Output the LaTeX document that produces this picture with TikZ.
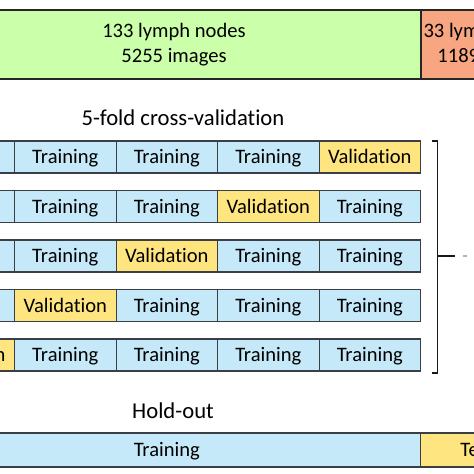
\documentclass[tikz,border=0pt]{standalone}
\usepackage{fontspec}
\setmainfont{Carlito}[Ligatures=NoCommon]
\usepackage{xcolor}
\usepackage{tikz}
\usetikzlibrary{positioning}
\definecolor{trainblue}{HTML}{C6E9FA}
\definecolor{valyellow}{HTML}{FFE57F}
\definecolor{devgreen}{HTML}{CCFFAA}
\definecolor{testorange}{HTML}{F8A682}
\definecolor{edge}{HTML}{3A3F45}
\tikzset{
  cell/.style={draw=edge,line width=0.6pt,minimum width=2.03cm,minimum height=0.64cm,anchor=west,inner sep=0pt,text height=1.9ex,text depth=0.3ex},
  trainbox/.style={cell,fill=trainblue},
  valbox/.style={cell,fill=valyellow},
  splitbox/.style={draw=black!85,line width=1.1pt,minimum height=1.38cm,anchor=west,inner sep=0pt,align=center,font=\fontsize{11.7}{14.6}\selectfont},
  holdbox/.style={draw=edge,line width=0.6pt,minimum height=0.68cm,anchor=west,inner sep=0pt,text height=1.9ex,text depth=0.3ex},
  heading/.style={font=\fontsize{12.9}{15}\selectfont},
  brace/.style={line width=1.1pt,draw=black!90}
}

\begin{document}
\begin{tikzpicture}[font=\fontsize{11.7}{13.7}\selectfont]
  \useasboundingbox (0,0) rectangle (9.48,-9.48);
  \clip (0,0) rectangle (9.48,-9.48);
  % data split
  \node[splitbox,fill=devgreen,minimum width=9.88cm] (dev) at (-1.48,-0.89) {133 lymph nodes\\5255 images};
  \node[splitbox,fill=testorange,minimum width=2.76cm] (ext) at (8.40,-0.89) {33 lymph nodes\\1189 images};
  % cross-validation, one row per fold
  \node[heading] (cvtitle) at (3.66,-2.36) {5-fold cross-validation};
  \node[trainbox] (f1c1) at (-1.75,-3.14) {Training};
  \node[trainbox] (f1c2) at (0.28,-3.14) {Training};
  \node[trainbox] (f1c3) at (2.31,-3.14) {Training};
  \node[trainbox] (f1c4) at (4.34,-3.14) {Training};
  \node[valbox]   (f1c5) at (6.37,-3.14) {Validation};
  \node[trainbox] (f2c1) at (-1.75,-4.13) {Training};
  \node[trainbox] (f2c2) at (0.28,-4.13) {Training};
  \node[trainbox] (f2c3) at (2.31,-4.13) {Training};
  \node[valbox]   (f2c4) at (4.34,-4.13) {Validation};
  \node[trainbox] (f2c5) at (6.37,-4.13) {Training};
  \node[trainbox] (f3c1) at (-1.75,-5.12) {Training};
  \node[trainbox] (f3c2) at (0.28,-5.12) {Training};
  \node[valbox]   (f3c3) at (2.31,-5.12) {Validation};
  \node[trainbox] (f3c4) at (4.34,-5.12) {Training};
  \node[trainbox] (f3c5) at (6.37,-5.12) {Training};
  \node[trainbox] (f4c1) at (-1.75,-6.11) {Training};
  \node[valbox]   (f4c2) at (0.28,-6.11) {Validation};
  \node[trainbox] (f4c3) at (2.31,-6.11) {Training};
  \node[trainbox] (f4c4) at (4.34,-6.11) {Training};
  \node[trainbox] (f4c5) at (6.37,-6.11) {Training};
  \node[valbox]   (f5c1) at (-1.75,-7.10) {Validation};
  \node[trainbox] (f5c2) at (0.28,-7.10) {Training};
  \node[trainbox] (f5c3) at (2.31,-7.10) {Training};
  \node[trainbox] (f5c4) at (4.34,-7.10) {Training};
  \node[trainbox] (f5c5) at (6.37,-7.10) {Training};
  % bracket over the folds
  \coordinate (brtop) at (8.75,-2.82);
  \coordinate (brbot) at (8.75,-7.46);
  \coordinate (brmid) at (8.75,-5.12);
  \coordinate (brtip) at (9.10,-5.12);
  \draw[brace] ([xshift=-0.11cm]brtop) -- (brtop) -- (brbot) -- ([xshift=-0.11cm]brbot);
  \draw[brace] (brmid) -- (brtip);
  \draw[line width=0.6pt,draw=gray!60] ([xshift=0.16cm]brtip) -- ([xshift=0.24cm]brtip);
  % hold-out
  \node[heading] (hotitle) at (3.46,-8.22) {Hold-out};
  \node[holdbox,fill=trainblue,minimum width=10.15cm] (hotrain) at (-1.75,-9.00) {Training};
  \node[holdbox,fill=valyellow,minimum width=2.76cm] (hotest) at (8.40,-9.00) {Testing};
\end{tikzpicture}
\end{document}
